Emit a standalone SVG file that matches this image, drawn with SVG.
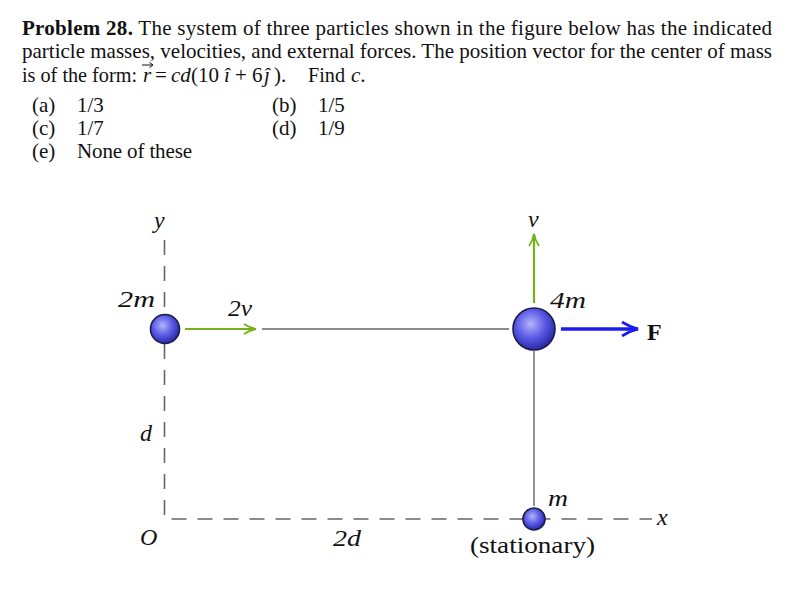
<svg xmlns="http://www.w3.org/2000/svg" width="799" height="590" viewBox="0 0 799 590">
<defs>
<radialGradient id="ball" cx="0.42" cy="0.38" r="0.62">
<stop offset="0" stop-color="#b4b4fa"/>
<stop offset="0.55" stop-color="#5a5ae6"/>
<stop offset="1" stop-color="#2a2aa8"/>
</radialGradient>
<marker id="gh" viewBox="0 0 14 12" refX="13" refY="6" markerWidth="14" markerHeight="12" markerUnits="userSpaceOnUse" orient="auto">
<path d="M1,1 Q7,5 13,6 Q7,7 1,11" fill="none" stroke="#74b21c" stroke-width="1.8"/>
</marker>
<marker id="bh" viewBox="0 0 18 16" refX="17" refY="8" markerWidth="18" markerHeight="16" markerUnits="userSpaceOnUse" orient="auto">
<path d="M1,1 Q9,6 17,8 Q9,10 1,15" fill="none" stroke="#1c1cf0" stroke-width="2.8"/>
</marker>
</defs>
<style>
.t{font-family:"Liberation Serif",serif;font-size:21px;fill:#111}
.i{font-style:italic}
.m{font-family:"Liberation Serif",serif;font-size:24px;font-style:italic;fill:#111}
.r{font-family:"Liberation Serif",serif;font-size:24px;fill:#111}
.dash{fill:none;stroke:#666;stroke-width:1.6;stroke-dasharray:15 11}
.solid{fill:none;stroke:#666;stroke-width:1.4}
.green{fill:none;stroke:#74b21c;stroke-width:2.2}
.blue{fill:none;stroke:#1c1cf0;stroke-width:3.6}
.ball{fill:url(#ball);stroke:#1c1c4a;stroke-width:1.6}
</style>
<rect width="799" height="590" fill="#fff"/>
<g id="problem-text">
<text class="t" x="22" y="35" textLength="750" lengthAdjust="spacing"><tspan font-weight="bold">Problem 28.</tspan> The system of three particles shown in the figure below has the indicated</text>
<text class="t" x="22" y="58" textLength="750" lengthAdjust="spacing">particle masses, velocities, and external forces. The position vector for the center of mass</text>
<text class="t" y="82"><tspan x="22" textLength="115" lengthAdjust="spacingAndGlyphs">is of the form:</tspan><tspan x="143" class="i">r</tspan><tspan x="155">=</tspan><tspan x="171" class="i">cd</tspan><tspan x="191">(10</tspan><tspan x="224" class="i">î</tspan><tspan x="235">+</tspan><tspan x="252">6</tspan><tspan x="264" class="i">ĵ</tspan><tspan x="274">).</tspan><tspan x="308" textLength="37" lengthAdjust="spacingAndGlyphs">Find</tspan><tspan x="351" class="i">c</tspan><tspan>.</tspan></text>
<path d="M142,65 H152.5 M149.5,62.5 L153,65 L149.5,67.5" fill="none" stroke="#111" stroke-width="1"/>
<text class="t" x="32" y="112">(a)</text><text class="t" x="77" y="112">1/3</text>
<text class="t" x="272" y="112">(b)</text><text class="t" x="318" y="112">1/5</text>
<text class="t" x="32" y="135">(c)</text><text class="t" x="77" y="135">1/7</text>
<text class="t" x="272" y="135">(d)</text><text class="t" x="318" y="135">1/9</text>
<text class="t" x="32" y="158">(e)</text><text class="t" x="77" y="158" textLength="115" lengthAdjust="spacing">None of these</text>
</g>
<g id="connectors">
<path class="dash" d="M164.5,240 V519 H652"/>
<path class="solid" d="M262,329 H509"/>
<path class="solid" d="M534,351 V506"/>
<path class="green" d="M185,329 H256" marker-end="url(#gh)"/>
<path class="green" d="M534,303 V234" marker-end="url(#gh)"/>
<path class="blue" d="M561,329 H638" marker-end="url(#bh)"/>
</g>
<g id="particle-2m">
<circle class="ball" cx="165" cy="329" r="14.5"/>
<text class="m" x="118" y="307" textLength="37" lengthAdjust="spacingAndGlyphs">2m</text>
<text class="m" x="228" y="316" textLength="24" lengthAdjust="spacingAndGlyphs">2v</text>
</g>
<g id="particle-4m">
<circle class="ball" cx="534" cy="329" r="21"/>
<text class="m" x="550" y="308" textLength="36" lengthAdjust="spacingAndGlyphs">4m</text>
<text class="m" x="528" y="227">v</text>
<text class="r" x="647" y="340" font-weight="bold">F</text>
</g>
<g id="particle-m">
<circle class="ball" cx="534" cy="519" r="11"/>
<text class="m" x="548" y="506" textLength="20" lengthAdjust="spacingAndGlyphs">m</text>
<text class="r" x="470" y="553" textLength="125" lengthAdjust="spacingAndGlyphs">(stationary)</text>
</g>
<g id="labels">
<text class="m" x="154" y="228">y</text>
<text class="m" x="140" y="441">d</text>
<text class="m" x="140" y="545">O</text>
<text class="m" x="333" y="546" textLength="28" lengthAdjust="spacingAndGlyphs">2d</text>
<text class="m" x="657" y="525">x</text>
</g>
</svg>
